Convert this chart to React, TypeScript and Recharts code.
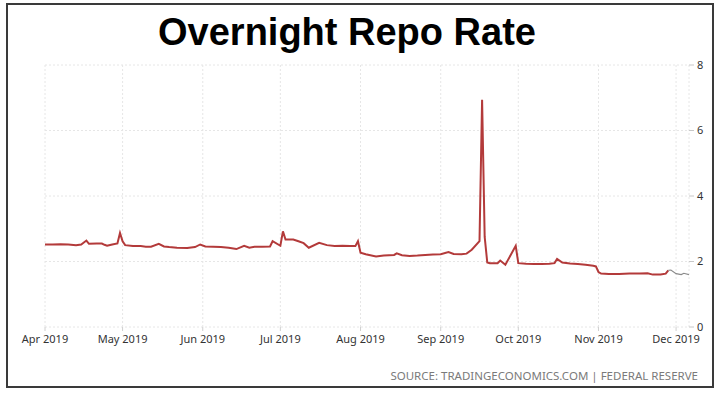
import React from "react";
import { LineChart, Line, XAxis, YAxis, CartesianGrid } from "recharts";

// Day offsets from 1 Apr 2019
const rateDays = [0,3,6,9,12,14,16,17,20,22,23,24,26,28,29,30,31,34,37,39,41,44,46,48,51,55,58,60,62,65,68,71,74,77,79,81,84,87,88,91,92,93,96,98,100,102,106,109,112,115,118,120,121,122,124,128,131,135,136,138,141,144,147,150,153,156,158,161,163,165,168,169,170,171,172,175,176,178,182,183,186,189,192,195,197,198,200,203,206,209,212,213,214,215,218,222,226,230,233,235,238,240,241];
const rateValues = [2.52,2.52,2.53,2.52,2.50,2.52,2.64,2.54,2.55,2.55,2.51,2.48,2.52,2.55,2.87,2.62,2.50,2.47,2.47,2.45,2.45,2.54,2.46,2.44,2.42,2.41,2.44,2.52,2.46,2.45,2.44,2.42,2.38,2.48,2.42,2.45,2.45,2.46,2.62,2.48,2.92,2.67,2.67,2.62,2.56,2.42,2.57,2.50,2.47,2.48,2.47,2.47,2.62,2.27,2.22,2.15,2.18,2.20,2.25,2.19,2.17,2.18,2.20,2.21,2.22,2.29,2.23,2.22,2.24,2.36,2.62,6.94,2.75,1.97,1.95,1.95,2.03,1.90,2.48,1.95,1.93,1.92,1.92,1.93,1.95,2.08,1.97,1.94,1.92,1.90,1.87,1.85,1.68,1.63,1.62,1.62,1.63,1.63,1.64,1.60,1.60,1.63,1.73];

const latestDays = [241,242,244,246,247,249];
const latestValues = [1.73,1.74,1.63,1.60,1.64,1.60];

const monthTicks = [0,30,61,91,122,153,183,214,244];
const monthLabels = ["Apr 2019","May 2019","Jun 2019","Jul 2019","Aug 2019","Sep 2019","Oct 2019","Nov 2019","Dec 2019"];
const yTicks = [0,2,4,6,8];

const title = "Overnight Repo Rate";
const source = "SOURCE: TRADINGECONOMICS.COM | FEDERAL RESERVE";

type Row = { day: number; rate?: number; latest?: number };
const rowMap = new Map<number, Row>();
rateDays.forEach((d, i) => {
  const r = rowMap.get(d) || { day: d };
  r.rate = rateValues[i];
  rowMap.set(d, r);
});
latestDays.forEach((d, i) => {
  const r = rowMap.get(d) || { day: d };
  r.latest = latestValues[i];
  rowMap.set(d, r);
});
const data = Array.from(rowMap.values()).sort((a, b) => a.day - b.day);

const tickStyle = { fontFamily: "'Noto Sans', sans-serif", fontSize: 11, fill: "#333" };

export default function App() {
  return (
    <div style={{ position: "absolute", left: 0, top: 0, width: 720, height: 394, background: "#fff", overflow: "hidden" }}>
      <svg
        width={720}
        height={394}
        style={{ position: "absolute", left: 0, top: 0 }}
      >
        <rect x={7} y={4} width={706} height={383} fill="none" stroke="#3a3a3a" strokeWidth={2} />
      </svg>
      <div
        style={{
          position: "absolute",
          left: 0,
          top: 10,
          width: 694,
          textAlign: "center",
          fontFamily: "'Liberation Sans', Arial, sans-serif",
          fontWeight: 700,
          fontSize: 38,
          lineHeight: "44px",
          color: "#000",
        }}
      >
        {title}
      </div>
      <div style={{ position: "absolute", left: 0, top: 0 }}>
        <LineChart
          width={720}
          height={394}
          data={data}
          margin={{ top: 65, right: 1, bottom: 37, left: 45 }}
        >
          <CartesianGrid stroke="#e6e6e6" strokeDasharray="2 2" />
          <XAxis
            dataKey="day"
            type="number"
            domain={[0, 249]}
            ticks={monthTicks}
            tickFormatter={(v: number) => monthLabels[monthTicks.indexOf(v)] ?? ""}
            axisLine={false}
            tickLine={{ stroke: "#d0d0d0" }}
            tickSize={4}
            tickMargin={4}
            height={30}
            tick={tickStyle}
            interval={0}
            allowDataOverflow
          />
          <YAxis
            orientation="right"
            domain={[0, 8]}
            ticks={yTicks}
            axisLine={false}
            tickLine={{ stroke: "#c8c8c8" }}
            tickSize={5}
            tickMargin={3}
            width={30}
            tick={tickStyle}
            interval={0}
          />
          <Line
            type="linear"
            dataKey="rate"
            stroke="#b33a3a"
            strokeWidth={2}
            dot={false}
            isAnimationActive={false}
            connectNulls
          />
          <Line
            type="linear"
            dataKey="latest"
            stroke="#8a8a8a"
            strokeWidth={1.2}
            dot={false}
            isAnimationActive={false}
            connectNulls
          />
        </LineChart>
      </div>
      <div
        style={{
          position: "absolute",
          right: 22,
          top: 368,
          fontFamily: "'Noto Sans', sans-serif",
          fontSize: 11.5,
          color: "#7a7a7a",
          whiteSpace: "nowrap",
          lineHeight: "16px",
        }}
      >
        {source}
      </div>
    </div>
  );
}
